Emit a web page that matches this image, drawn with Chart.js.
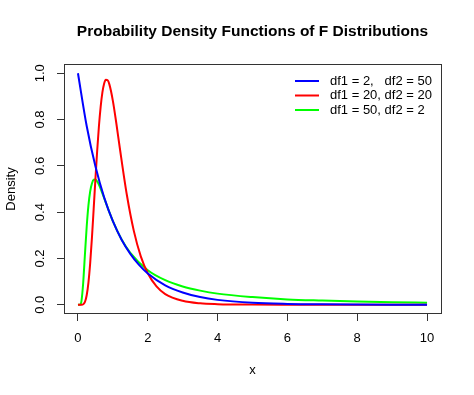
<!DOCTYPE html>
<html>
<head>
<meta charset="utf-8">
<script src="https://cdn.jsdelivr.net/npm/chart.js@4/dist/chart.umd.min.js"></script>
<style>
  body { margin: 0; background: #fff; }
</style>
</head>
<body>
<canvas id="fdist" width="474" height="395"></canvas>
<script>
// values
const labels = ["df1 = 2,   df2 = 50", "df1 = 20, df2 = 20", "df1 = 50, df2 = 2"];
const colors = ["#0000ff", "#ff0000", "#00ff00"];

const xBlue = [0, 0.25, 0.5, 0.75, 1, 1.25, 1.5, 1.75, 2, 2.5, 3, 3.5, 4, 5, 6, 7, 8, 9, 10];
const yBlue = [1, 0.772, 0.598, 0.464, 0.361, 0.281, 0.22, 0.172, 0.135, 0.084, 0.053, 0.033, 0.021, 0.0087, 0.0037, 0.0016, 0.0007, 0.0003, 0.0002];

const xRed = [0, 0.1, 0.15, 0.2, 0.25, 0.3, 0.35, 0.4, 0.45, 0.5, 0.55, 0.6, 0.65, 0.7, 0.75, 0.8, 0.85, 0.9, 1, 1.1, 1.2, 1.4, 1.6, 1.8, 2, 2.25, 2.5, 3, 3.5, 4, 5, 6, 8, 10];
const yRed = [0, 0.0001, 0.002, 0.012, 0.041, 0.096, 0.18, 0.289, 0.414, 0.543, 0.664, 0.77, 0.855, 0.917, 0.956, 0.972, 0.97, 0.952, 0.881, 0.783, 0.676, 0.475, 0.319, 0.209, 0.136, 0.079, 0.046, 0.017, 0.006, 0.0025, 0.0005, 0.0001, 0, 0];

const xGreen = [0, 0.05, 0.1, 0.15, 0.2, 0.25, 0.3, 0.35, 0.4, 0.45, 0.5, 0.55, 0.6, 0.7, 0.8, 1, 1.25, 1.5, 2, 2.5, 3, 3.5, 4, 5, 6, 7, 8, 9, 10];
const yGreen = [0, 0.0001, 0.016, 0.095, 0.218, 0.337, 0.429, 0.49, 0.524, 0.54, 0.541, 0.533, 0.519, 0.481, 0.44, 0.361, 0.282, 0.224, 0.149, 0.106, 0.079, 0.061, 0.048, 0.033, 0.023, 0.018, 0.014, 0.011, 0.009];

const xTicks = [0, 2, 4, 6, 8, 10];
const yTicks = [0, 0.2, 0.4, 0.6, 0.8, 1.0];

const series = [[xBlue, yBlue], [xRed, yRed], [xGreen, yGreen]];

Chart.defaults.font.family = "'Liberation Sans', Arial, sans-serif";
Chart.defaults.font.size = 13;
Chart.defaults.color = "#000";

// R style box round the plot plus the legend in the top right corner
const frame = {
  id: "frame",
  afterDraw(chart) {
    const { ctx, chartArea: a } = chart;
    ctx.save();
    ctx.strokeStyle = "#333";
    ctx.lineWidth = 1;
    ctx.strokeRect(Math.round(a.left) + 0.5, Math.round(a.top) + 0.5,
      Math.round(a.right - a.left), Math.round(a.bottom - a.top) - 1);

    ctx.font = "13px 'Liberation Sans', Arial, sans-serif";
    ctx.textBaseline = "middle";
    ctx.textAlign = "left";
    chart.data.datasets.forEach((ds, i) => {
      const y = a.top + 17 + i * 14.5;
      ctx.strokeStyle = ds.borderColor;
      ctx.lineWidth = 2;
      ctx.beginPath();
      ctx.moveTo(a.right - 146, y);
      ctx.lineTo(a.right - 122, y);
      ctx.stroke();
      ctx.fillStyle = "#000";
      ctx.fillText(ds.label, a.right - 111, y);
    });
    ctx.restore();
  },
};

new Chart(document.getElementById("fdist"), {
  type: "line",
  data: {
    datasets: series.map(([xs, ys], i) => ({
      label: labels[i],
      data: xs.map((x, j) => ({ x: x, y: ys[j] })),
      borderColor: colors[i],
      borderWidth: 2,
      pointRadius: 0,
      cubicInterpolationMode: "monotone",
      fill: false,
    })),
  },
  options: {
    responsive: false,
    animation: false,
    layout: { padding: { left: 0, right: 33, top: 0, bottom: 0 } },
    plugins: {
      legend: { display: false },
      tooltip: { enabled: false },
      title: {
        display: true,
        fullSize: false,
        text: "Probability Density Functions of F Distributions",
        font: { size: 15.5, weight: "bold" },
        color: "#000",
        padding: { top: 22.8, bottom: 22.6 },
      },
    },
    scales: {
      x: {
        type: "linear",
        min: -0.4,
        max: 10.4,
        afterBuildTicks: (s) => { s.ticks = xTicks.map((v) => ({ value: v })); },
        afterFit: (s) => { s.height = 81; },
        ticks: { padding: 10, maxRotation: 0, callback: (v) => String(v) },
        grid: { drawOnChartArea: false, drawTicks: true, tickLength: 7, tickColor: "#333" },
        border: { display: false },
        title: { display: true, text: "x", padding: { top: 0, bottom: 17 } },
      },
      y: {
        min: -0.04,
        max: 1.04,
        afterBuildTicks: (s) => { s.ticks = yTicks.map((v) => ({ value: v })); },
        afterFit: (s) => { s.width = 64; },
        ticks: { padding: 8, minRotation: 90, maxRotation: 90, crossAlign: "center", callback: (v) => v.toFixed(1) },
        grid: { drawOnChartArea: false, drawTicks: true, tickLength: 7, tickColor: "#333" },
        border: { display: false },
        title: { display: true, text: "Density", padding: { top: 4, bottom: 2 } },
      },
    },
  },
  plugins: [frame],
});
</script>
</body>
</html>
